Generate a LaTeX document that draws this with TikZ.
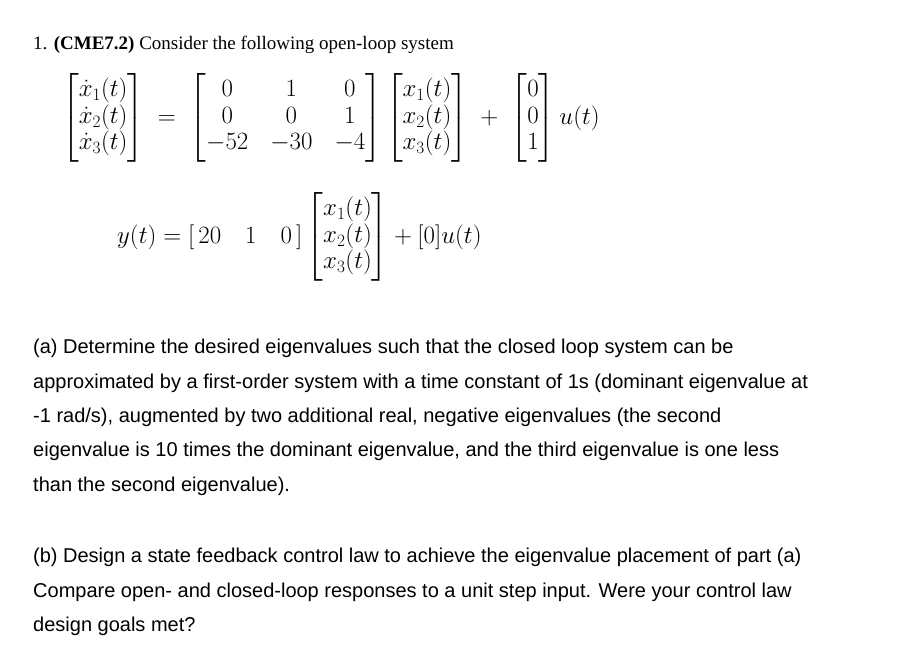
\documentclass[tikz,border=0pt]{standalone}
\usepackage{amsmath}
\usepackage{fontspec}
\setmainfont{Liberation Serif}
\newfontfamily\bodyfont{Liberation Sans}
\newcommand{\myeqsetup}{\fontsize{24}{28}\selectfont\setlength{\arraycolsep}{11pt}\def\arraystretch{0.95}}
\begin{document}
\begin{tikzpicture}[x=1pt,y=-1pt,
  bodyline/.style={anchor=base west,inner sep=0pt,font=\bodyfont\fontsize{20}{24}\selectfont},
  eq/.style={inner sep=0pt,font=\myeqsetup}]
\useasboundingbox[fill=white] (0,0) rectangle (902,647);
\node[anchor=base west,inner sep=0pt,font=\fontsize{19}{23}\selectfont] (title) at (33,50) {1. \textbf{(CME7.2)} Consider the following open-loop system};
\node[eq,anchor=west] (eqa) at (62,118) {$\begin{bmatrix}\dot x_1(t)\\ \dot x_2(t)\\ \dot x_3(t)\end{bmatrix}\;=\;\begin{bmatrix}0&1&0\\0&0&1\\-52&-30&-4\end{bmatrix}\begin{bmatrix}x_1(t)\\ x_2(t)\\ x_3(t)\end{bmatrix}\;+\;\begin{bmatrix}0\\0\\1\end{bmatrix}u(t)$};
\node[eq,anchor=west] (eqb) at (117,237) {$y(t)=[\,20\quad 1\quad 0\,]\begin{bmatrix}x_1(t)\\ x_2(t)\\ x_3(t)\end{bmatrix}+[0]u(t)$};
\node[bodyline] (a1) at (33,353) {(a) Determine the desired eigenvalues such that the closed loop system can be};
\node[bodyline] (a2) at (33,388) {approximated by a first-order system with a time constant of 1s (dominant eigenvalue at};
\node[bodyline] (a3) at (33,422) {-1 rad/s), augmented by two additional real, negative eigenvalues (the second};
\node[bodyline] (a4) at (33,456) {eigenvalue is 10 times the dominant eigenvalue, and the third eigenvalue is one less};
\node[bodyline] (a5) at (33,491) {than the second eigenvalue).};
\node[bodyline] (b1) at (33,562) {(b) Design a state feedback control law to achieve the eigenvalue placement of part (a)};
\node[bodyline] (b2) at (33,597) {Compare open- and closed-loop responses to a unit step input. Were your control law};
\node[bodyline] (b3) at (33,631) {design goals met?};
\end{tikzpicture}
\end{document}
